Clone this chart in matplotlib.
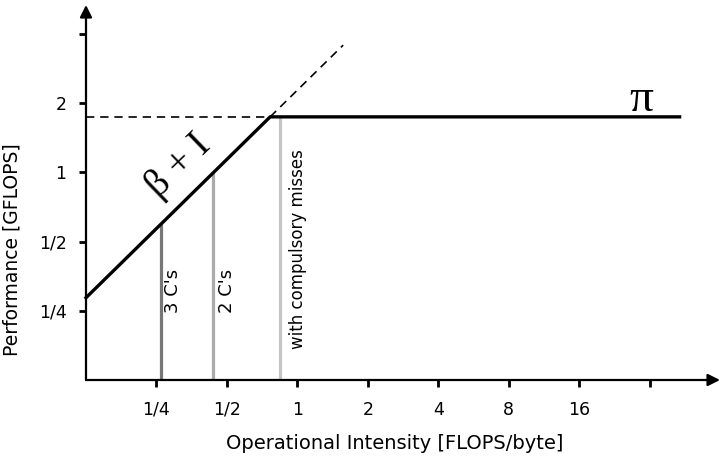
import numpy as np
from matplotlib import pyplot as plt

# roofline values
beta = 2.28          # bandwidth slope
peak = 1.745         # pi, flat roof
ridge = peak / beta

roof_x = [0.125, ridge, 43.0]
roof_y = [beta * 0.125, peak, peak]
ext_x = [ridge, 1.57]
ext_y = [peak, beta * 1.57]

cache_x = [0.262, 0.438, 0.846]
cache_top = [beta * 0.262, beta * 0.438, peak]
cache_colors = ["#777777", "#aaaaaa", "#c4c4c4"]
cache_labels = ["3 C's", "2 C's", "with compulsory misses"]
cache_label_y = [0.245, 0.245, 0.17]
cache_label_dx = [8.5, 9.5, 13]
cache_label_fs = [13, 13, 12]

xticks = [1 / 4, 1 / 2, 1, 2, 4, 8, 16, 32]
xticklabels = ["1/4", "1/2", "1", "2", "4", "8", "16", ""]
yticks = [1 / 4, 1 / 2, 1, 2, 4]
yticklabels = ["1/4", "1/2", "1", "2", ""]

plt.rcParams['font.family'] = ['DejaVu Sans']

fig = plt.figure(figsize=(7.21, 4.61), dpi=100)
ax = fig.add_axes([86 / 721, 81 / 461, 634 / 721, 375 / 461])
ax.set_xscale('log', base=2)
ax.set_yscale('log', base=2)
ax.set_xlim(2 ** -3, 2 ** 6)
ax.set_ylim(2 ** -3, 2 ** 2.42)

# cache lines
for i in range(len(cache_x)):
    x = cache_x[i]
    ax.plot([x, x], [2 ** -3, cache_top[i]], color=cache_colors[i], lw=2.3,
            solid_capstyle='butt', zorder=2)
    ax.annotate(cache_labels[i], (x, cache_label_y[i]), xytext=(cache_label_dx[i], 0),
                textcoords='offset points', rotation=90, ha='center', va='bottom',
                fontsize=cache_label_fs[i])

# roofline
ax.plot([roof_x[0], ext_x[0]], [peak, peak], color='k', lw=1.2, ls=(0, (5, 3.5)), zorder=3)
ax.plot(ext_x, ext_y, color='k', lw=1.2, ls=(0, (5, 3.5)), zorder=3, clip_on=False)
ax.plot(roof_x, roof_y, color='k', lw=2.4, solid_joinstyle='miter', zorder=4, clip_on=False)

ax.text(0.31, 1.07, "β + I", rotation=44, ha='center', va='center',
        fontsize=28, family='Liberation Serif')
ax.text(29.5, 2.08, "π", ha='center', va='center', fontsize=34, family='Liberation Serif')

# axes drawn as arrows
for s in ax.spines.values():
    s.set_visible(False)
arrow = dict(arrowstyle='-|>', lw=1.6, color='k', mutation_scale=18, shrinkA=0, shrinkB=0)
ax.annotate("", xy=(1.0, 0), xytext=(0, 0), xycoords='axes fraction', arrowprops=arrow)
ax.annotate("", xy=(0, 1.0), xytext=(0, 0), xycoords='axes fraction', arrowprops=arrow)

ax.set_xticks(xticks)
ax.set_xticklabels(xticklabels)
ax.set_yticks(yticks)
ax.set_yticklabels(yticklabels)
ax.minorticks_off()
ax.tick_params(direction='out', length=5, width=2, labelsize=12.5)
ax.tick_params(axis='x', pad=10)
ax.tick_params(axis='y', pad=9)

fig.text(395 / 721, 1 - 443 / 461, "Operational Intensity [FLOPS/byte]",
         ha='center', va='center', fontsize=14)
fig.text(12 / 721, 1 - 250 / 461, "Performance [GFLOPS]", rotation=90,
         ha='center', va='center', fontsize=13.5)

fig.savefig("out.png", dpi=100)
